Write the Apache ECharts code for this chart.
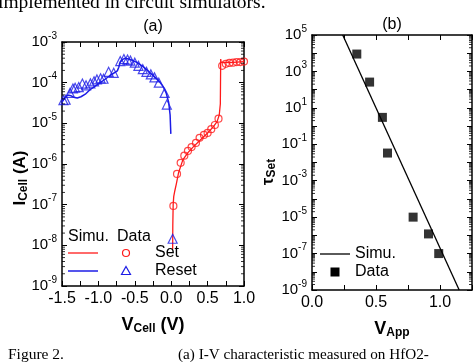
<!DOCTYPE html>
<html><head><meta charset="utf-8">
<script src="https://cdn.jsdelivr.net/npm/echarts@6/dist/echarts.min.js"></script>
<style>html,body{margin:0;padding:0;background:#fff}#wrap{position:relative;width:474px;height:362px}#c,#o{position:absolute;left:0;top:0;width:474px;height:362px}</style>
</head><body><div id="wrap"><div id="c"></div><div id="o"></div></div>
<script>
// ---- Panel (a): I-V data ----
const resetV = [-1.48,-1.45,-1.39,-1.35,-1.32,-1.27,-1.22,-1.17,-1.11,-1.06,-1.02,-0.97,-0.93,-0.86,-0.79,-0.70,-0.65,-0.60,-0.56,-0.50,-0.45,-0.39,-0.34,-0.28,-0.23,-0.17,-0.09,-0.06,0.02];
const resetI = [3.7e-5,3.8e-5,5.6e-5,7.2e-5,7.5e-5,7.8e-5,9.5e-5,8.6e-5,9.6e-5,1.08e-4,1.2e-4,1.28e-4,1.25e-4,1.85e-4,1.75e-4,3.4e-4,3.8e-4,3.7e-4,3.5e-4,3.1e-4,2.6e-4,2.15e-4,1.85e-4,1.6e-4,1.35e-4,1.0e-4,5.6e-5,2.9e-5,1.45e-8];
const resetSimV = [-1.50,-1.46,-1.42,-1.38,-1.34,-1.29,-1.24,-1.18,-1.12,-1.02,-0.94,-0.84,-0.74,-0.72,-0.70,-0.66,-0.63,-0.56,-0.48,-0.40,-0.32,-0.24,-0.16,-0.11,-0.07,-0.035,-0.015,-0.005];
const resetSimI = [3.4e-5,4.2e-5,5.0e-5,4.8e-5,4.4e-5,4.2e-5,4.5e-5,5.2e-5,6.6e-5,8.8e-5,1.1e-4,1.5e-4,1.95e-4,2.4e-4,3.2e-4,3.8e-4,4.0e-4,3.7e-4,3.2e-4,2.6e-4,1.95e-4,1.45e-4,1.05e-4,8.0e-5,5.6e-5,3.3e-5,1.6e-5,5.5e-6];
const setV = [0.03,0.08,0.13,0.18,0.23,0.28,0.34,0.39,0.45,0.50,0.55,0.60,0.65,0.70,0.75,0.80,0.85,0.90,0.95,1.00];
const setI = [9.3e-8,5.7e-7,1.07e-6,1.6e-6,2.1e-6,2.6e-6,3.3e-6,4.4e-6,5.2e-6,5.8e-6,7.2e-6,9.1e-6,1.3e-5,2.6e-4,2.9e-4,3.05e-4,3.1e-4,3.2e-4,3.2e-4,3.3e-4];
const setSimV = [0.020,0.022,0.027,0.035,0.05,0.07,0.10,0.16,0.23,0.30,0.40,0.50,0.58,0.63,0.66,0.675,0.68,0.685,0.70,0.80,0.90,1.00];
const setSimI = [8e-9,3e-8,1.0e-7,1.6e-7,2.2e-7,3.2e-7,6e-7,1.26e-6,1.9e-6,2.6e-6,3.9e-6,5.8e-6,8.3e-6,1.1e-5,1.6e-5,3e-5,3.8e-4,3.2e-4,3.0e-4,3.1e-4,3.2e-4,3.3e-4];
// ---- Panel (b): switching time ----
const vApp = [0.35,0.45,0.55,0.59,0.79,0.91,0.99];
const tauSet = [9e3,2.6e2,3,3.3e-2,1e-5,1.2e-6,1e-7];
const simuV = [0.24,1.15];
const simuTau = [1e5,1e-9];
// ---- axis ranges (log axes given as exponents) ----
const aX = [-1.5, 1.0], aY = [-9, -3];
const bX = [0, 1.25], bY = [-9, 5];

const zip = (a, b) => a.map((v, i) => [v, b[i]]);
const RED = '#ff1a1a', BLUE = '#1c1ce6';
const FONT = '"Liberation Sans", Arial, sans-serif';
const SERIF = '"Liberation Serif", "Times New Roman", serif';

const supRich = {
  b: {fontSize: 15, lineHeight: 22, fontFamily: FONT, color: '#000'},
  s: {fontSize: 10, lineHeight: 10, verticalAlign: 'top', fontFamily: FONT, color: '#000'}
};
function logLabel(showFn) {
  return {
    show: true, fontSize: 15, fontFamily: FONT, color: '#000', margin: 5, rich: supRich,
    formatter: v => { const e = Math.round(Math.log10(v)); return showFn(e) ? '{b|10}{s|' + e + '}' : ''; }
  };
}
const xLab = (step) => ({
  show: true, fontSize: 16, fontFamily: FONT, color: '#000', margin: 5,
  formatter: v => (Math.abs(Math.round(v * 100)) % Math.round(step * 100) === 0 ? v.toFixed(1) : '')
});
const axLine = {show: true, onZero: false, lineStyle: {color: '#000', width: 1.5}};
const tick = {show: true, inside: true, length: 5, lineStyle: {color: '#000', width: 1}};

function xAxes(grid, range, labStep) {
  return [
    {gridIndex: grid, type: 'value', min: range[0], max: range[1], interval: 0.25, position: 'bottom',
     axisLine: axLine, axisTick: tick, splitLine: {show: false}, axisLabel: xLab(labStep)},
    {gridIndex: grid, type: 'value', min: range[0], max: range[1], interval: 0.25, position: 'top',
     axisLine: axLine, axisTick: tick, splitLine: {show: false}, axisLabel: {show: false}}
  ];
}
function yAxes(grid, range, showFn) {
  return [
    {gridIndex: grid, type: 'log', logBase: 10, min: Math.pow(10, range[0]), max: Math.pow(10, range[1]), interval: 1,
     position: 'left', axisLine: axLine, axisTick: tick, splitLine: {show: false}, axisLabel: logLabel(showFn)},
    {gridIndex: grid, type: 'log', logBase: 10, min: Math.pow(10, range[0]), max: Math.pow(10, range[1]), interval: 1,
     position: 'right', axisLine: axLine, axisTick: tick, splitLine: {show: false}, axisLabel: {show: false}}
  ];
}
// minor log ticks (2..9 x 10^n) drawn as tiny rect symbols on the frame edges
function minorTicks(xi, yi, range, xEdge, dir) {
  const data = [];
  for (let e = range[0]; e < range[1]; e++) for (let k = 2; k <= 9; k++) data.push([xEdge, k * Math.pow(10, e)]);
  return {
    name: 'minor' + xi + dir, type: 'scatter', xAxisIndex: xi, yAxisIndex: yi, z: 5, data,
    symbol: 'rect', symbolSize: [3, 1], symbolOffset: [dir * 1.5, 0],
    itemStyle: {color: '#000'}
  };
}

// ---- main chart: axes and data ----
const chart = echarts.init(document.getElementById('c'));
chart.setOption({
  animation: false,
  grid: [
    {left: 62, top: 42, width: 182, height: 244, outerBoundsMode: 'none'},
    {left: 312, top: 35, width: 160, height: 255, outerBoundsMode: 'none'}
  ],
  xAxis: [...xAxes(0, aX, 0.5), ...xAxes(1, bX, 0.5)],
  yAxis: [...yAxes(0, aY, e => true), ...yAxes(1, bY, e => Math.abs(e) % 2 === 1)],
  series: [
    {name: 'Simu. Set', type: 'line', xAxisIndex: 0, yAxisIndex: 0, data: zip(setSimV, setSimI), showSymbol: false,
     lineStyle: {color: RED, width: 1.3}, itemStyle: {color: RED}, z: 3},
    {name: 'Simu. Reset', type: 'line', xAxisIndex: 0, yAxisIndex: 0, data: zip(resetSimV, resetSimI), showSymbol: false,
     lineStyle: {color: BLUE, width: 1.5}, itemStyle: {color: BLUE}, z: 3},
    {name: 'Set', type: 'scatter', xAxisIndex: 0, yAxisIndex: 0, data: zip(setV, setI), symbol: 'circle', symbolSize: 7,
     itemStyle: {color: 'rgba(0,0,0,0)', borderColor: RED, borderWidth: 1.2}, z: 4},
    {name: 'Reset', type: 'scatter', xAxisIndex: 0, yAxisIndex: 0, data: zip(resetV, resetI), symbol: 'triangle', symbolSize: 9,
     itemStyle: {color: 'rgba(0,0,0,0)', borderColor: BLUE, borderWidth: 1.2}, z: 4},
    {name: 'Simu.', type: 'line', xAxisIndex: 2, yAxisIndex: 2, data: zip(simuV, simuTau), showSymbol: false,
     lineStyle: {color: '#000', width: 1.3}, itemStyle: {color: '#000'}, z: 3},
    {name: 'Data', type: 'scatter', xAxisIndex: 2, yAxisIndex: 2, data: zip(vApp, tauSet), symbol: 'rect', symbolSize: 9,
     itemStyle: {color: '#000'}, z: 4},
    minorTicks(0, 0, aY, aX[0], 1),
    minorTicks(0, 0, aY, aX[1], -1),
    minorTicks(2, 2, bY, bX[0], 1),
    minorTicks(2, 2, bY, bX[1], -1)
  ]
});

// ---- overlay chart: texts, axis titles and legend keys ----
function txt(text, x, y, extra) {
  return {type: 'text', x, y, style: Object.assign({text, font: '16px ' + FONT, fill: '#000', verticalAlign: 'middle'}, extra || {})};
}
const lineIcon = (x1, x2, y, color, w) => ({type: 'line', shape: {x1, y1: y, x2, y2: y}, style: {stroke: color, lineWidth: w}});
const subRich = (size) => ({v: {font: 'bold ' + size + 'px ' + FONT, lineHeight: 20, fill: '#000'}, s: {font: 'bold 12px ' + FONT, lineHeight: 10, verticalAlign: 'bottom', fill: '#000'}});
const over = echarts.init(document.getElementById('o'));
over.setOption({
  animation: false,
  graphic: [
    txt('implemented in circuit simulators.', -2, 3, {font: '19.5px ' + SERIF}),
    txt('Figure 2.', 8, 355, {font: '15.5px ' + SERIF}),
    txt('(a) I-V characteristic measured on HfO2-', 178, 355, {font: '15.2px ' + SERIF}),
    txt('(a)', 153, 27, {align: 'center'}),
    txt('(b)', 392, 25, {align: 'center'}),
    txt('Simu.', 68, 237),
    txt('Data', 117, 237),
    lineIcon(68, 98, 253, RED, 1.3),
    lineIcon(68, 98, 271, BLUE, 1.5),
    {type: 'circle', shape: {cx: 126, cy: 253, r: 3.5}, style: {fill: 'none', stroke: RED, lineWidth: 1.2}},
    {type: 'polygon', shape: {points: [[126, 266.5], [130.5, 274.5], [121.5, 274.5]]}, style: {fill: 'none', stroke: BLUE, lineWidth: 1.2}},
    txt('Set', 155, 253),
    txt('Reset', 155, 271),
    lineIcon(320, 350, 254, '#000', 1.3),
    {type: 'rect', shape: {x: 330.5, y: 267.5, width: 9, height: 9}, style: {fill: '#000'}},
    txt('Simu.', 355, 254),
    txt('Data', 355, 272),
    {type: 'text', x: 153, y: 325, style: {text: '{v|V}{s|Cell}{v| (V)}', align: 'center', verticalAlign: 'middle', rich: subRich(18)}},
    {type: 'text', x: 392, y: 329, style: {text: '{v|V}{s|App}', align: 'center', verticalAlign: 'middle', rich: subRich(18)}},
    {type: 'text', x: 20, y: 178, rotation: Math.PI / 2, style: {text: '{v|I}{s|Cell}{v| (A)}', align: 'center', verticalAlign: 'middle', rich: subRich(17)}},
    {type: 'text', x: 268, y: 172, rotation: Math.PI / 2, style: {text: '{v|τ}{s|Set}', align: 'center', verticalAlign: 'middle', rich: subRich(17)}}
  ]
});
</script>
</body></html>
